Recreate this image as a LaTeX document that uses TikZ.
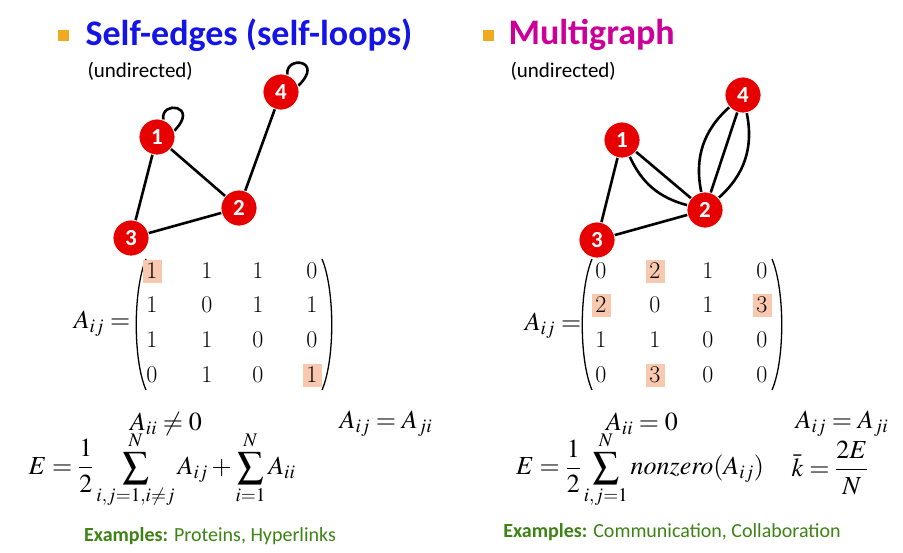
\documentclass[tikz,border=0pt]{standalone}
\usepackage{mathptmx}
\usepackage[no-math]{fontspec}
\setsansfont{Carlito}
\usepackage{amsmath}
\usetikzlibrary{backgrounds}
\definecolor{nred}{RGB}{230,0,0}
\definecolor{tblue}{RGB}{20,20,230}
\definecolor{tmag}{RGB}{204,0,153}
\definecolor{bul}{RGB}{240,170,30}
\definecolor{hl}{RGB}{248,200,175}
\definecolor{egreen}{RGB}{60,130,20}
\tikzset{
 vtx/.style={circle,fill=nred,draw=white,line width=0.8pt,minimum size=36pt,inner sep=0pt,text=white,font=\sffamily\bfseries\fontsize{23}{23}\selectfont},
 edge/.style={line width=2.6pt},
 ent/.style={font=\fontsize{24}{24}\selectfont,inner sep=2pt,minimum width=19pt,minimum height=23pt},
 hent/.style={ent,fill=hl},
 eq/.style={font=\fontsize{26}{26}\selectfont},
 title/.style={font=\sffamily\bfseries\fontsize{36}{36}\selectfont,anchor=west},
 sub/.style={font=\sffamily\fontsize{21}{21}\selectfont,anchor=west},
 bul/.style={fill=bul,minimum size=11pt,inner sep=0pt},
 paren/.style={line width=1.3pt},
 exm/.style={font=\sffamily\fontsize{20}{20}\selectfont,text=egreen}
}
\begin{document}
\begin{tikzpicture}[x=1pt,y=-1pt]
\useasboundingbox (0,0) rectangle (903,552);
% titles
\node[bul] (b1) at (63,35) {};
\node[title,text=tblue] (t1) at (82,35) {Self-edges (self-loops)};
\node[sub] (s1) at (84,71) {(undirected)};
\node[bul] (b2) at (488,35) {};
\node[title,text=tmag] (t2) at (505,35) {Multigraph};
\node[sub] (s2) at (507,71) {(undirected)};
% left graph
\node[vtx] (a1) at (157,137) {1};
\node[vtx] (a4) at (281,92) {4};
\node[vtx] (a2) at (239,208) {2};
\node[vtx] (a3) at (131,238) {3};
% right graph
\node[vtx] (b1n) at (622,140) {1};
\node[vtx] (b4n) at (743,95) {4};
\node[vtx] (b2n) at (705,210) {2};
\node[vtx] (b3n) at (597,240) {3};
\begin{pgfonlayer}{background}
\draw[edge] (a1.center) -- (a2.center);
\draw[edge] (a1.center) -- (a3.center);
\draw[edge] (a3.center) -- (a2.center);
\draw[edge] (a2.center) -- (a4.center);
\draw[edge] (a1.70) .. controls (160,100) and (200,105) .. (a1.20);
\draw[edge] (a4.70) .. controls (285,55) and (325,60) .. (a4.20);
\draw[edge] (b1n.center) -- (b2n.center);
\draw[edge] (b1n) to[bend right=25] (b2n);
\draw[edge] (b1n.center) -- (b3n.center);
\draw[edge] (b3n.center) -- (b2n.center);
\draw[edge] (b2n.center) -- (b4n.center);
\draw[edge] (b2n) to[bend left=30] (b4n);
\draw[edge] (b2n) to[bend right=30] (b4n);
\end{pgfonlayer}
% left matrix
\node[eq] (la) at (102,324) {$A_{ij}=$};
\draw[paren] (146,259) .. controls (133,290) and (133,360) .. (146,390);
\draw[paren] (322,259) .. controls (335,290) and (335,360) .. (322,390);
\foreach \r/\y in {0/271,1/305,2/340,3/375}{
 \foreach \c/\x in {0/152,1/207,2/258,3/312}{
  \coordinate (L\r\c) at (\x,\y);}}
\node[hent] at (L00) {1}; \node[ent] at (L01) {1}; \node[ent] at (L02) {1}; \node[ent] at (L03) {0};
\node[ent] at (L10) {1}; \node[ent] at (L11) {0}; \node[ent] at (L12) {1}; \node[ent] at (L13) {1};
\node[ent] at (L20) {1}; \node[ent] at (L21) {1}; \node[ent] at (L22) {0}; \node[ent] at (L23) {0};
\node[ent] at (L30) {0}; \node[ent] at (L31) {1}; \node[ent] at (L32) {0}; \node[hent] at (L33) {1};
% right matrix
\node[eq] (ra) at (553,326) {$A_{ij}=$};
\draw[paren] (592,259) .. controls (579,290) and (579,360) .. (592,390);
\draw[paren] (772,259) .. controls (785,290) and (785,360) .. (772,390);
\foreach \r/\y in {0/271,1/305,2/340,3/375}{
 \foreach \c/\x in {0/601,1/655,2/708,3/762}{
  \coordinate (R\r\c) at (\x,\y);}}
\node[ent] at (R00) {0}; \node[hent] at (R01) {2}; \node[ent] at (R02) {1}; \node[ent] at (R03) {0};
\node[hent] at (R10) {2}; \node[ent] at (R11) {0}; \node[ent] at (R12) {1}; \node[hent] at (R13) {3};
\node[ent] at (R20) {1}; \node[ent] at (R21) {1}; \node[ent] at (R22) {0}; \node[ent] at (R23) {0};
\node[ent] at (R30) {0}; \node[hent] at (R31) {3}; \node[ent] at (R32) {0}; \node[ent] at (R33) {0};
% equations
\node[eq] (e1) at (166,424) {$A_{ii}\neq 0$};
\node[eq] (e2) at (386,424) {$A_{ij}=A_{ji}$};
\node[eq] (e3) at (162,470) {$\displaystyle E=\frac{1}{2}\sum_{i,j=1,i\neq j}^{N}A_{ij}+\sum_{i=1}^{N}A_{ii}$};
\node[eq] (e4) at (642,424) {$A_{ii}=0$};
\node[eq] (e5) at (842,424) {$A_{ij}=A_{ji}$};
\node[eq] (e6) at (640,470) {$\displaystyle E=\frac{1}{2}\sum_{i,j=1}^{N}\mathit{nonzero}(A_{ij})$};
\node[eq] (e7) at (830,468) {$\displaystyle \bar{k}=\frac{2E}{N}$};
% examples
\node[exm] (x1) at (210,536) {\textbf{Examples:} Proteins, Hyperlinks};
\node[exm] (x2) at (672,532) {\textbf{Examples:} Communication, Collaboration};
\end{tikzpicture}
\end{document}
